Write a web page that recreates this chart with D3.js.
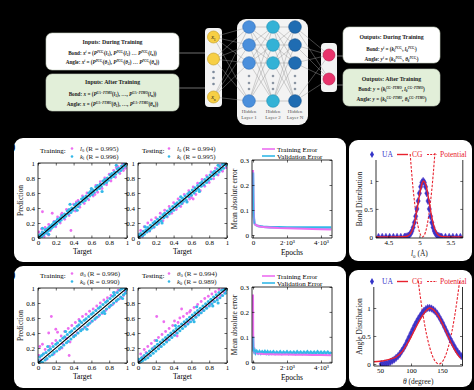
<!DOCTYPE html>
<html><head><meta charset="utf-8">
<script src="https://cdn.jsdelivr.net/npm/d3@7"></script>
<style>body{margin:0;background:#000;} svg{display:block;} text{font-family:"Liberation Serif","Times New Roman",serif;}</style>
</head><body><svg id="c" width="474" height="390"></svg>
<script>
// ---------------- DATA ----------------
const unitTicks = [0,0.2,0.4,0.6,0.8,1];
const unitTickLabels = ["0","0.2","0.4","0.6","0.8","1"];
const maeYTicks = [0,0.1,0.2,0.3];
const maeYTickLabels = ["0","0.1","0.2","0.3"];
const maeXTicks = [0,2000,4000];
const maeXTickLabels = ["0","2·10³","4·10³"];
const bondXTicks = [4.5,5,5.5];
const bondXTickLabels = ["4.5","5","5.5"];
const angleXTicks = [50,100,150];
const angleXTickLabels = ["50","100","150"];
const distYTicks = [0,0.5,1];
const distYTickLabels = ["0","0.5","1"];

const legendB = {train:["0.995","0.996"], test:["0.994","0.995"]};
const legendC = {train:["0.996","0.990"], test:["0.994","0.989"]};

const bTrainPink = [[0.01,0.08],[0.02,0.00],[0.03,0.05],[0.04,0.12],[0.05,0.35],[0.07,0.02],[0.08,0.14],[0.10,0.06],[0.12,0.18],[0.14,0.10],[0.16,0.33],[0.18,0.22],[0.20,0.15],[0.22,0.28],[0.25,0.20],[0.27,0.33],[0.30,0.25],[0.32,0.38],[0.35,0.30],[0.37,0.10],[0.40,0.45],[0.42,0.36],[0.45,0.50],[0.47,0.41],[0.50,0.56],[0.52,0.46],[0.55,0.60],[0.57,0.51],[0.60,0.65],[0.62,0.56],[0.65,0.70],[0.67,0.61],[0.70,0.75],[0.72,0.66],[0.75,0.80],[0.77,0.71],[0.80,0.85],[0.82,0.76],[0.85,0.90],[0.87,0.81],[0.90,0.95],[0.92,0.86],[0.95,0.99],[0.96,0.90],[0.98,0.93],[0.88,0.94],[0.64,0.58],[0.43,0.48],[0.26,0.31],[0.12,0.04]];
const bTrainCyan = [[0.01,0.03],[0.02,0.00],[0.03,0.05],[0.04,0.02],[0.05,0.08],[0.06,0.04],[0.07,0.06],[0.08,0.11],[0.09,0.07],[0.10,0.12],[0.11,0.09],[0.12,0.14],[0.13,0.11],[0.14,0.16],[0.15,0.13],[0.16,0.18],[0.17,0.15],[0.18,0.21],[0.19,0.17],[0.20,0.22],[0.21,0.19],[0.22,0.25],[0.24,0.22],[0.25,0.27],[0.26,0.24],[0.27,0.30],[0.29,0.27],[0.30,0.32],[0.31,0.29],[0.33,0.36],[0.34,0.32],[0.35,0.38],[0.37,0.34],[0.38,0.40],[0.39,0.37],[0.41,0.44],[0.42,0.40],[0.43,0.46],[0.45,0.42],[0.46,0.48],[0.47,0.45],[0.49,0.52],[0.50,0.48],[0.51,0.54],[0.53,0.50],[0.54,0.56],[0.55,0.53],[0.57,0.60],[0.58,0.56],[0.59,0.62],[0.61,0.58],[0.62,0.64],[0.63,0.61],[0.65,0.68],[0.66,0.64],[0.67,0.70],[0.69,0.66],[0.70,0.72],[0.71,0.69],[0.73,0.76],[0.74,0.72],[0.75,0.78],[0.77,0.74],[0.78,0.80],[0.79,0.77],[0.81,0.84],[0.82,0.80],[0.83,0.86],[0.85,0.82],[0.86,0.88],[0.87,0.85],[0.89,0.92],[0.90,0.88],[0.91,0.93],[0.93,0.90],[0.94,0.96],[0.95,0.93],[0.97,0.99],[0.98,0.96],[0.99,1.00],[0.05,0.13],[0.12,0.05],[0.36,0.45],[0.72,0.62],[0.88,0.97],[0.60,0.66],[0.44,0.37]];
const bTestPink = [[0.01,0.05],[0.03,0.10],[0.05,0.02],[0.07,0.15],[0.09,0.08],[0.11,0.20],[0.13,0.09],[0.15,0.24],[0.18,0.14],[0.20,0.27],[0.23,0.19],[0.25,0.33],[0.28,0.23],[0.30,0.37],[0.33,0.28],[0.35,0.42],[0.38,0.33],[0.40,0.47],[0.43,0.38],[0.45,0.52],[0.48,0.42],[0.50,0.46],[0.52,0.58],[0.55,0.49],[0.57,0.63],[0.60,0.54],[0.62,0.68],[0.65,0.58],[0.67,0.73],[0.70,0.63],[0.72,0.78],[0.75,0.69],[0.77,0.83],[0.80,0.74],[0.82,0.88],[0.85,0.79],[0.87,0.93],[0.90,0.84],[0.92,0.97],[0.95,0.89],[0.97,1.00],[0.99,0.94],[0.62,0.52],[0.58,0.52]];
const bTestCyan = [[0.00,0.02],[0.01,0.04],[0.02,0.00],[0.03,0.06],[0.05,0.03],[0.06,0.09],[0.07,0.05],[0.09,0.11],[0.10,0.08],[0.11,0.14],[0.13,0.10],[0.14,0.17],[0.15,0.13],[0.17,0.20],[0.18,0.15],[0.19,0.22],[0.21,0.18],[0.22,0.25],[0.23,0.21],[0.25,0.28],[0.26,0.23],[0.28,0.31],[0.29,0.27],[0.30,0.33],[0.32,0.29],[0.33,0.36],[0.35,0.32],[0.36,0.39],[0.37,0.35],[0.39,0.42],[0.40,0.37],[0.42,0.45],[0.43,0.41],[0.44,0.47],[0.46,0.43],[0.47,0.50],[0.49,0.46],[0.50,0.53],[0.51,0.49],[0.53,0.56],[0.54,0.51],[0.56,0.59],[0.57,0.55],[0.58,0.61],[0.60,0.57],[0.61,0.64],[0.63,0.60],[0.64,0.67],[0.65,0.63],[0.67,0.70],[0.68,0.65],[0.70,0.73],[0.71,0.69],[0.72,0.75],[0.74,0.71],[0.75,0.78],[0.77,0.74],[0.78,0.81],[0.79,0.77],[0.81,0.84],[0.82,0.79],[0.84,0.87],[0.85,0.83],[0.86,0.89],[0.88,0.85],[0.89,0.92],[0.91,0.88],[0.92,0.95],[0.93,0.91],[0.95,0.98],[0.96,0.93],[0.97,0.99],[0.99,0.97],[1.00,0.98],[0.08,0.15],[0.27,0.20],[0.48,0.55],[0.69,0.62],[0.90,0.97],[0.55,0.48]];
const cTrainPink = [[0.01,0.10],[0.02,0.22],[0.03,0.04],[0.05,0.25],[0.06,0.12],[0.08,0.18],[0.10,0.05],[0.12,0.40],[0.13,0.22],[0.15,0.62],[0.16,0.26],[0.18,0.12],[0.20,0.30],[0.22,0.41],[0.24,0.18],[0.26,0.36],[0.28,0.25],[0.30,0.42],[0.32,0.33],[0.34,0.46],[0.36,0.28],[0.38,0.50],[0.40,0.36],[0.42,0.54],[0.44,0.40],[0.46,0.58],[0.48,0.44],[0.50,0.62],[0.52,0.47],[0.54,0.65],[0.56,0.50],[0.58,0.69],[0.60,0.55],[0.62,0.72],[0.64,0.58],[0.66,0.76],[0.68,0.62],[0.70,0.80],[0.72,0.66],[0.74,0.84],[0.76,0.70],[0.78,0.87],[0.80,0.74],[0.82,0.90],[0.84,0.78],[0.86,0.94],[0.88,0.82],[0.90,0.97],[0.92,0.86],[0.94,0.99],[0.96,0.90],[0.98,0.95],[0.99,1.00],[0.35,0.10],[0.20,0.45],[0.27,0.20]];
const cTrainCyan = [[0.00,0.04],[0.01,0.00],[0.02,0.08],[0.03,0.02],[0.04,0.10],[0.05,0.01],[0.06,0.12],[0.08,0.04],[0.09,0.14],[0.10,0.06],[0.12,0.17],[0.13,0.09],[0.14,0.19],[0.16,0.11],[0.17,0.22],[0.18,0.14],[0.20,0.25],[0.21,0.16],[0.22,0.27],[0.24,0.19],[0.25,0.30],[0.26,0.21],[0.28,0.33],[0.29,0.24],[0.30,0.35],[0.32,0.27],[0.33,0.38],[0.34,0.29],[0.36,0.41],[0.37,0.32],[0.38,0.43],[0.40,0.35],[0.41,0.46],[0.42,0.37],[0.44,0.49],[0.45,0.40],[0.46,0.51],[0.48,0.43],[0.49,0.54],[0.50,0.45],[0.52,0.57],[0.53,0.48],[0.54,0.59],[0.56,0.51],[0.57,0.62],[0.58,0.53],[0.60,0.65],[0.61,0.56],[0.62,0.67],[0.64,0.59],[0.65,0.70],[0.66,0.61],[0.68,0.73],[0.69,0.64],[0.70,0.75],[0.72,0.67],[0.73,0.78],[0.74,0.69],[0.76,0.81],[0.77,0.72],[0.78,0.83],[0.80,0.75],[0.81,0.86],[0.82,0.77],[0.84,0.89],[0.85,0.80],[0.86,0.91],[0.88,0.83],[0.89,0.94],[0.90,0.85],[0.92,0.97],[0.93,0.88],[0.94,0.99],[0.96,0.91],[0.97,1.00],[0.98,0.93],[0.99,0.97],[0.11,0.22],[0.31,0.42],[0.55,0.45],[0.75,0.66],[0.95,0.86],[0.47,0.56],[0.85,0.94]];
const cTestPink = [[0.01,0.04],[0.03,0.12],[0.05,0.08],[0.07,0.18],[0.09,0.14],[0.11,0.22],[0.13,0.10],[0.15,0.26],[0.17,0.20],[0.19,0.30],[0.21,0.62],[0.23,0.34],[0.25,0.22],[0.27,0.38],[0.29,0.55],[0.31,0.42],[0.33,0.30],[0.35,0.46],[0.37,0.36],[0.39,0.50],[0.41,0.56],[0.43,0.40],[0.45,0.54],[0.47,0.60],[0.49,0.72],[0.51,0.62],[0.53,0.50],[0.55,0.66],[0.57,0.54],[0.59,0.70],[0.61,0.58],[0.63,0.74],[0.65,0.62],[0.67,0.78],[0.69,0.66],[0.71,0.82],[0.73,0.70],[0.75,0.86],[0.77,0.74],[0.79,0.89],[0.81,0.78],[0.83,0.92],[0.85,0.82],[0.87,0.95],[0.89,0.86],[0.91,0.98],[0.93,0.90],[0.95,1.00],[0.97,0.94],[0.99,0.99],[0.44,0.36],[0.58,0.68]];
const cTestCyan = [[0.00,0.01],[0.01,0.05],[0.03,0.00],[0.04,0.07],[0.05,0.03],[0.07,0.10],[0.08,0.05],[0.10,0.13],[0.11,0.07],[0.13,0.16],[0.14,0.10],[0.16,0.19],[0.17,0.13],[0.19,0.22],[0.20,0.16],[0.22,0.25],[0.23,0.19],[0.25,0.28],[0.26,0.22],[0.28,0.31],[0.29,0.25],[0.31,0.34],[0.32,0.28],[0.34,0.37],[0.35,0.31],[0.37,0.40],[0.38,0.34],[0.40,0.43],[0.41,0.37],[0.43,0.46],[0.44,0.40],[0.46,0.49],[0.47,0.43],[0.49,0.52],[0.50,0.46],[0.52,0.55],[0.53,0.49],[0.55,0.58],[0.56,0.52],[0.58,0.61],[0.59,0.55],[0.61,0.64],[0.62,0.58],[0.64,0.67],[0.65,0.61],[0.67,0.70],[0.68,0.64],[0.70,0.73],[0.71,0.67],[0.73,0.76],[0.74,0.70],[0.76,0.79],[0.77,0.73],[0.79,0.82],[0.80,0.76],[0.82,0.85],[0.83,0.79],[0.85,0.88],[0.86,0.82],[0.88,0.91],[0.89,0.84],[0.91,0.94],[0.92,0.87],[0.94,0.97],[0.95,0.90],[0.97,0.99],[0.98,0.93],[0.99,0.97],[0.21,0.30],[0.42,0.50],[0.63,0.55],[0.84,0.76],[0.66,0.75],[0.90,0.80]];

const bTrainErr = [[0,0.26],[10,0.21],[20,0.15],[30,0.11],[45,0.08],[60,0.062],[80,0.052],[100,0.046],[150,0.041],[200,0.039],[300,0.036],[400,0.034],[600,0.032],[800,0.031],[1000,0.030],[1500,0.028],[2000,0.027],[2500,0.026],[3000,0.025],[3500,0.024],[4000,0.023],[4600,0.022]];
const bValErr = [[0,0.25],[10,0.20],[20,0.14],[30,0.10],[45,0.075],[60,0.06],[80,0.05],[100,0.045],[150,0.041],[200,0.039],[300,0.036],[400,0.035],[600,0.033],[800,0.032],[1000,0.031],[1500,0.031],[2000,0.030],[2500,0.030],[3000,0.030],[3500,0.030],[4000,0.030],[4600,0.030]];
const cTrainErr = [[0,0.27],[5,0.2],[10,0.12],[20,0.07],[30,0.05],[50,0.042],[80,0.038],[150,0.035],[300,0.033],[600,0.031],[1000,0.030],[1500,0.029],[2000,0.029],[2500,0.028],[3000,0.028],[3500,0.027],[4000,0.027],[4600,0.026]];
const cValErr = [[0,0.1],[15,0.06],[30,0.045],[60,0.040],[100,0.046],[150,0.035],[220,0.043],[300,0.034],[380,0.042],[460,0.033],[540,0.041],[620,0.034],[700,0.042],[780,0.033],[860,0.041],[940,0.032],[1020,0.040],[1100,0.033],[1200,0.041],[1300,0.032],[1400,0.040],[1500,0.033],[1600,0.041],[1700,0.032],[1800,0.040],[1900,0.033],[2000,0.041],[2100,0.032],[2200,0.040],[2300,0.033],[2400,0.040],[2500,0.032],[2600,0.041],[2700,0.033],[2800,0.040],[2900,0.032],[3000,0.040],[3100,0.033],[3200,0.041],[3300,0.032],[3400,0.040],[3500,0.033],[3600,0.040],[3700,0.032],[3800,0.041],[3900,0.033],[4000,0.040],[4100,0.032],[4200,0.040],[4300,0.033],[4400,0.040],[4500,0.032],[4600,0.039]];

const bondUA = [[4.34,0],[4.40,0],[4.46,0],[4.52,0],[4.58,0],[4.64,0],[4.70,0],[4.76,0.002],[4.78,0.004],[4.80,0.009],[4.82,0.019],[4.84,0.035],[4.86,0.063],[4.88,0.106],[4.90,0.170],[4.92,0.258],[4.94,0.369],[4.96,0.50],[4.98,0.642],[5.00,0.780],[5.02,0.895],[5.04,0.973],[5.06,1],[5.08,0.973],[5.10,0.895],[5.12,0.780],[5.14,0.642],[5.16,0.50],[5.18,0.369],[5.20,0.258],[5.22,0.170],[5.24,0.106],[5.26,0.063],[5.28,0.035],[5.30,0.019],[5.32,0.009],[5.34,0.004],[5.36,0.002],[5.42,0],[5.48,0],[5.54,0],[5.60,0],[5.66,0]];
const bondCG = [[4.3,0],[4.6,0],[4.75,0.003],[4.8,0.011],[4.85,0.05],[4.9,0.168],[4.95,0.411],[5.0,0.739],[5.05,0.976],[5.07,1],[5.1,0.946],[5.15,0.674],[5.2,0.352],[5.25,0.135],[5.3,0.038],[5.35,0.008],[5.45,0.001],[5.7,0]];
const bondPot = [[4.80,2.34],[4.825,1.90],[4.85,1.5],[4.875,1.15],[4.90,0.84],[4.925,0.59],[4.95,0.375],[4.975,0.21],[5.00,0.094],[5.025,0.023],[5.05,0],[5.075,0.023],[5.10,0.094],[5.125,0.21],[5.15,0.375],[5.175,0.59],[5.20,0.84],[5.225,1.15],[5.25,1.5],[5.275,1.90],[5.30,2.34]];
const angleUA = [[52,0],[55,0],[58,0.01],[61,0.01],[64,0.02],[67,0.04],[70,0.06],[73,0.08],[76,0.11],[79,0.14],[82,0.18],[85,0.23],[88,0.28],[91,0.34],[94,0.41],[97,0.48],[100,0.55],[103,0.62],[106,0.69],[109,0.75],[112,0.81],[115,0.86],[118,0.91],[121,0.95],[124,0.98],[127,1.00],[130,1.00],[133,0.99],[136,0.97],[139,0.94],[142,0.90],[145,0.85],[148,0.79],[151,0.73],[154,0.66],[157,0.59],[160,0.52],[163,0.45],[166,0.39],[169,0.33],[172,0.27],[175,0.22],[178,0.18],[181,0.14]];
const angleCG = [[40,0.04],[50,0.05],[60,0.07],[70,0.10],[75,0.12],[80,0.16],[85,0.21],[90,0.29],[95,0.38],[100,0.48],[105,0.59],[110,0.70],[115,0.80],[120,0.89],[125,0.96],[130,1.0],[135,0.98],[140,0.92],[145,0.84],[150,0.73],[155,0.61],[160,0.49],[165,0.37],[170,0.26],[175,0.17],[180,0.10]];
const anglePot = [[105,2.13],[110,1.63],[115,1.20],[120,0.83],[125,0.53],[130,0.30],[135,0.133],[140,0.033],[145,0],[150,0.033],[155,0.133],[160,0.30],[165,0.53],[170,0.83],[175,1.20],[180,1.63],[183,1.92]];

// ---------------- DRAWING ----------------
const svg = d3.select("#c");
svg.append("rect").attr("width",474).attr("height",390).attr("fill","#000");
const PINK="#ec6ef0", CYAN="#33b8e8", BLUE="#3434c8", RED="#e8222e", INK="#1a1a1a";

function rich(parent, x, y, markup, size, opts={}) {
  const t = parent.append("text").attr("x",x).attr("y",y).attr("font-size",size)
    .attr("text-anchor",opts.anchor||"middle").attr("fill",opts.fill||INK);
  if (opts.bold) t.attr("font-weight","bold");
  if (opts.rotate) t.attr("transform",`rotate(-90,${x},${y})`);
  const toks = markup.split(/(\$[^$]+\$|\^\{[^}]*\}|_\{[^}]*\}|;\{[^}]*\})/).filter(s=>s.length);
  let shift = 0;
  toks.forEach(tok => {
    let txt=tok, target=0, fs=null, it=false;
    if (tok[0]==="$") { txt=tok.slice(1,-1); it=true; }
    else if (tok.startsWith("^{")) { txt=tok.slice(2,-1); target=-size*0.42; fs=size*0.62; it=true; }
    else if (tok.startsWith("_{")) { txt=tok.slice(2,-1); target=size*0.28; fs=size*0.65; }
    else if (tok.startsWith(";{")) { txt=tok.slice(2,-1); target=-size*0.22; fs=size*0.48; it=true; }
    const ts = t.append("tspan").text(txt);
    if (target!==shift) { ts.attr("dy", target-shift); shift=target; }
    if (fs) ts.attr("font-size", fs);
    if (it) ts.attr("font-style","italic");
  });
  return t;
}

// ---- panel backgrounds ----
[[14,138,332,124,9],[349,140,123,121,9],[14,266,332,122,9],[349,270,123,117,9]].forEach(p=>{
  svg.append("rect").attr("x",p[0]).attr("y",p[1]).attr("width",p[2]).attr("height",p[3]).attr("rx",p[4]).attr("fill","#fff");
});
svg.append("text").attr("x",12).attr("y",150).attr("font-size",10).attr("font-weight","bold").attr("fill","#000").text(")");
svg.append("text").attr("x",12).attr("y",278).attr("font-size",10).attr("font-weight","bold").attr("fill","#000").text(")");

// ---- diagram ----
const dg = svg.append("g");
function box(x,y,w,h,fill){ dg.append("rect").attr("x",x).attr("y",y).attr("width",w).attr("height",h).attr("rx",6).attr("fill",fill).attr("stroke","#c8d2c0").attr("stroke-width",0.6); }
box(46,33,133,37,"#ffffff"); box(46,74,133,37,"#e2efd9");
box(343,27,97,36,"#ffffff"); box(343,69,97,37,"#e2efd9");
[[179,53,205,53],[179,88,205,88],[337,56,343,56],[337,85,343,85]].forEach(l=>{
  dg.append("line").attr("x1",l[0]).attr("y1",l[1]).attr("x2",l[2]).attr("y2",l[3]).attr("stroke","#8a8a8a").attr("stroke-width",0.8);
});
dg.append("rect").attr("x",205).attr("y",28).attr("width",17).attr("height",79).attr("rx",4).attr("fill","#f3f3f3");
dg.append("rect").attr("x",237).attr("y",19).attr("width",71).attr("height",106).attr("rx",9).attr("fill","#f3f3f3");
dg.append("rect").attr("x",321).attr("y",43).attr("width",16).attr("height",49).attr("rx",4).attr("fill","#f3f3f3");

const inX=213.5, inY=[37,59,97];
const layX=[249,273,295], layY=[27,45,63,101];
const outX=329, outY=[55,79];
const conn = dg.append("g").attr("stroke","#9a9a9a").attr("stroke-width",0.45);
function connect(xa,ya,xb,yb){ ya.forEach(a=>yb.forEach(b=>conn.append("line").attr("x1",xa).attr("y1",a).attr("x2",xb).attr("y2",b))); }
connect(inX,inY,layX[0],layY); connect(layX[0],layY,layX[1],layY); connect(layX[1],layY,layX[2],layY); connect(layX[2],layY,outX,outY);

inY.forEach(y=>dg.append("circle").attr("cx",inX).attr("cy",y).attr("r",6).attr("fill","#f7cf45").attr("stroke","#c9a227").attr("stroke-width",0.7));
[72,78,84].forEach(y=>dg.append("circle").attr("cx",inX).attr("cy",y).attr("r",1.3).attr("fill","#7d8a9c"));
rich(dg,inX,39,"$x$_{1}",6,{});
rich(dg,inX,99,"$x$_{n}",6,{});
const layFill=["#4a8fdc","#33b2d6","#1f6cb2"], layStroke=["#2f6fb8","#2090b4","#144f88"];
layX.forEach((x,i)=>{
  layY.forEach(y=>dg.append("circle").attr("cx",x).attr("cy",y).attr("r",6.3).attr("fill",layFill[i]).attr("stroke",layStroke[i]).attr("stroke-width",0.6));
  [76,83,89].forEach(y=>dg.append("circle").attr("cx",x).attr("cy",y).attr("r",1.3).attr("fill","#8c96a3"));
  dg.append("text").attr("x",x).attr("y",113).attr("font-size",5).attr("text-anchor","middle").attr("fill","#555").text("Hidden");
  dg.append("text").attr("x",x).attr("y",119).attr("font-size",5).attr("text-anchor","middle").attr("fill","#555").text("Layer "+["1","2","N"][i]);
});
outY.forEach(y=>dg.append("circle").attr("cx",outX).attr("cy",y).attr("r",6).attr("fill","#e8336b").attr("stroke","#b01c4a").attr("stroke-width",0.6));

rich(dg,112.5,43.5,"Inputs: During Training",5.8,{bold:true});
rich(dg,112.5,55,"Bond: $x$^{i}  =  ($P$^{PCG};{i}($l$_{1}), $P$^{PCG};{i}($l$_{2}) … $P$^{PCG};{i}($l$_{n}))",5.2,{bold:true});
rich(dg,112.5,64,"Angle: $x$^{i}  =  ($P$^{PCG};{i}($θ$_{1}), $P$^{PCG};{i}($θ$_{2}) … $P$^{PCG};{i}($θ$_{n}))",5.2,{bold:true});
rich(dg,112.5,84,"Inputs: After Training",5.8,{bold:true});
rich(dg,112.5,96,"Bond: $x$  =  ($P$^{UA−PTMO}($l$_{1}), …, $P$^{UA−PTMO}($l$_{n}))",5.2,{bold:true});
rich(dg,112.5,106,"Angle: $x$  =  ($P$^{UA−PTMO}($θ$_{1}), …, $P$^{UA−PTMO}($θ$_{n}))",5.2,{bold:true});
rich(dg,391.5,39,"Outputs: During Training",5.8,{bold:true});
rich(dg,391.5,51,"Bond: $y$^{i}  =  ($k$_{l}^{PCG};{i}, $l$_{0}^{PCG};{i})",5.2,{bold:true});
rich(dg,391.5,61,"Angle: $y$^{i}  =  ($k$_{θ}^{PCG};{i}, $θ$_{0}^{PCG};{i})",5.2,{bold:true});
rich(dg,391.5,80.5,"Outputs: After Training",5.8,{bold:true});
rich(dg,391.5,91,"Bond: $y$  =  ($k$_{l}^{CG−PTMO}, $l$_{0}^{CG−PTMO})",5.2,{bold:true});
rich(dg,391.5,101,"Angle: $y$  =  ($k$_{θ}^{CG−PTMO}, $θ$_{0}^{CG−PTMO})",5.2,{bold:true});

// ---- axes helpers ----
let clipId=0;
function clip(g,x0,y0,w,h){ const id="cl"+(clipId++); g.append("clipPath").attr("id",id).append("rect").attr("x",x0).attr("y",y0).attr("width",w).attr("height",h); return "url(#"+id+")"; }
function styleAxis(s){ s.select(".domain").remove(); s.attr("font-size",7).attr("font-family","Liberation Serif, serif"); s.selectAll("line").attr("stroke","#000").attr("stroke-width",0.6); s.selectAll("text").attr("fill","#000"); }
function axes(g,x,y,xt,xl,yt,yl,opt){
  const [x0,x1]=x.range(), [yb,yt0]=y.range();
  const fx=d=>xl[xt.indexOf(d)], fy=d=>yl[yt.indexOf(d)];
  g.append("g").attr("transform",`translate(0,${yb})`).call(d3.axisBottom(x).tickValues(xt).tickFormat(fx).tickSizeInner(-2.5).tickSizeOuter(0).tickPadding(2.5)).call(styleAxis);
  g.append("g").attr("transform",`translate(${x0},0)`).call(d3.axisLeft(y).tickValues(yt).tickFormat(fy).tickSizeInner(-2.5).tickSizeOuter(0).tickPadding(3)).call(styleAxis);
  g.append("g").attr("transform",`translate(${x1},0)`).call(d3.axisRight(y).tickValues(yt).tickFormat("").tickSizeInner(-2.5).tickSizeOuter(0)).call(styleAxis);
  const top = opt.frameTop!==undefined?opt.frameTop:yt0;
  if (opt.frameTop===undefined) {
    g.append("g").attr("transform",`translate(0,${yt0})`).call(d3.axisTop(x).tickValues(xt).tickFormat("").tickSizeInner(-2.5).tickSizeOuter(0)).call(styleAxis);
    g.append("line").attr("x1",x0).attr("x2",x1).attr("y1",yt0).attr("y2",yt0).attr("stroke","#000").attr("stroke-width",0.8);
  }
  g.append("line").attr("x1",x0).attr("x2",x1).attr("y1",yb).attr("y2",yb).attr("stroke","#000").attr("stroke-width",0.8);
  g.append("line").attr("x1",x0).attr("x2",x0).attr("y1",top).attr("y2",yb).attr("stroke","#000").attr("stroke-width",0.8);
  g.append("line").attr("x1",x1).attr("x2",x1).attr("y1",top).attr("y2",yb).attr("stroke","#000").attr("stroke-width",0.8);
}

function scatterPlot(x0,x1,yTop,yBot,pink,cyan,title,leg,varName,kName,showYLabel){
  const g=svg.append("g");
  const x=d3.scaleLinear().domain([0,1]).range([x0,x1]);
  const y=d3.scaleLinear().domain([0,1]).range([yBot,yTop]);
  const cp=clip(g,x0,yTop,x1-x0,yBot-yTop);
  const pg=g.append("g").attr("clip-path",cp);
  pg.selectAll(".p").data(pink).join("circle").attr("cx",d=>x(d[0])).attr("cy",d=>y(d[1])).attr("r",1.4).attr("fill",PINK);
  pg.selectAll(".c").data(cyan).join("circle").attr("cx",d=>x(d[0])).attr("cy",d=>y(d[1])).attr("r",1.6).attr("fill",CYAN);
  pg.append("line").attr("x1",x(0)).attr("y1",y(0)).attr("x2",x(1)).attr("y2",y(1)).attr("stroke","#000").attr("stroke-width",1.1);
  axes(g,x,y,unitTicks,unitTickLabels,unitTicks,unitTickLabels,{});
  g.append("text").attr("x",(x0+x1)/2).attr("y",yBot+16).attr("font-size",7.5).attr("text-anchor","middle").text("Target");
  if(showYLabel) rich(g,23,(yTop+yBot)/2,"Prediction",7.5,{rotate:true});
  const lx = x0 + (title==="Training:"?2:4);
  g.append("text").attr("x",lx).attr("y",yTop-10).attr("font-size",7).text(title);
  const mx = lx + (title==="Training:"?32:27);
  g.append("circle").attr("cx",mx).attr("cy",yTop-14.5).attr("r",1.3).attr("fill",PINK);
  g.append("circle").attr("cx",mx).attr("cy",yTop-6.5).attr("r",1.3).attr("fill",CYAN);
  rich(g,mx+8,yTop-12.5,varName+" (R = "+leg[0]+")",7,{anchor:"start"});
  rich(g,mx+8,yTop-4.5,kName+" (R = "+leg[1]+")",7,{anchor:"start"});
}

function maePlot(yTop,yBot,ymin,train,val){
  const g=svg.append("g");
  const x=d3.scaleLinear().domain([-60,4650]).range([252,332]);
  const y=d3.scaleLinear().domain([ymin,0.3]).range([yBot,yTop]);
  const cp=clip(g,252,yTop,80,yBot-yTop);
  const pg=g.append("g").attr("clip-path",cp);
  const line=d3.line().x(d=>x(d[0])).y(d=>y(d[1]));
  pg.append("path").attr("d",line(val)).attr("fill","none").attr("stroke",CYAN).attr("stroke-width",2.4);
  pg.append("path").attr("d",line(train)).attr("fill","none").attr("stroke",PINK).attr("stroke-width",2);
  pg.append("path").attr("d",line(val.slice(0,8))).attr("fill","none").attr("stroke",CYAN).attr("stroke-width",1.2);
  axes(g,x,y,maeXTicks,maeXTickLabels,maeYTicks,maeYTickLabels,{});
  g.append("text").attr("x",292).attr("y",yBot+17).attr("font-size",7.5).attr("text-anchor","middle").text("Epochs");
  rich(g,237,(yTop+yBot)/2,"Mean absolute error",7.5,{rotate:true});
  g.append("line").attr("x1",262).attr("x2",275).attr("y1",yTop-11).attr("y2",yTop-11).attr("stroke",PINK).attr("stroke-width",1.6);
  g.append("line").attr("x1",262).attr("x2",275).attr("y1",yTop-4).attr("y2",yTop-4).attr("stroke",CYAN).attr("stroke-width",1.6);
  g.append("text").attr("x",277).attr("y",yTop-8.5).attr("font-size",7).text("Training Error");
  g.append("text").attr("x",277).attr("y",yTop-1.5).attr("font-size",7).text("Validation Error");
}

function distPlot(cfg){
  const g=svg.append("g");
  const x=d3.scaleLinear().domain(cfg.xd).range([cfg.x0,cfg.x1]);
  const y=d3.scaleLinear().domain(cfg.yd).range([cfg.yb,cfg.yt]);
  const cp=clip(g,cfg.x0,cfg.yt,cfg.x1-cfg.x0,cfg.yb-cfg.yt);
  const pg=g.append("g").attr("clip-path",cp);
  const curve=d3.line().x(d=>x(d[0])).y(d=>y(d[1])).curve(d3.curveCatmullRom);
  pg.append("path").attr("d",curve(cfg.pot)).attr("fill","none").attr("stroke",RED).attr("stroke-width",1.1).attr("stroke-dasharray","2.5,1.5");
  const sym=d3.symbol().type(d3.symbolDiamond).size(16);
  pg.selectAll(".u").data(cfg.ua).join("path").attr("d",sym).attr("transform",d=>`translate(${x(d[0])},${y(d[1])})`).attr("fill",BLUE).attr("stroke","#5a3cc8").attr("stroke-width",0.5);
  pg.append("path").attr("d",curve(cfg.cg)).attr("fill","none").attr("stroke",RED).attr("stroke-width",1.4);
  axes(g,x,y,cfg.xt,cfg.xl,distYTicks,distYTickLabels,{frameTop:cfg.frameTop});
  rich(g,(cfg.x0+cfg.x1)/2,cfg.yb+17.5,cfg.xlabel,7.5,{});
  rich(g,362,(cfg.frameTop+cfg.yb)/2,cfg.ylabel,7.5,{rotate:true});
  const ly=cfg.legY;
  g.append("path").attr("d",d3.symbol().type(d3.symbolDiamond).size(14)).attr("transform",`translate(372,${ly-2.5})`).attr("fill",BLUE);
  g.append("text").attr("x",382).attr("y",ly).attr("font-size",7.5).attr("fill",BLUE).text("UA");
  g.append("line").attr("x1",397).attr("x2",408).attr("y1",ly-2.5).attr("y2",ly-2.5).attr("stroke",RED).attr("stroke-width",1.4);
  g.append("text").attr("x",412).attr("y",ly).attr("font-size",7.5).attr("fill",RED).text("CG");
  g.append("line").attr("x1",427).attr("x2",437).attr("y1",ly-2.5).attr("y2",ly-2.5).attr("stroke",RED).attr("stroke-width",1.1).attr("stroke-dasharray","2,1.2");
  g.append("text").attr("x",440).attr("y",ly).attr("font-size",7.5).attr("fill",RED).text("Potential");
}

// ---- panel b ----
scatterPlot(38,127,163,238,bTrainPink,bTrainCyan,"Training:",legendB.train,"$l$_{0}","$k$_{l}",true);
scatterPlot(138,227,163,238,bTestPink,bTestCyan,"Testing:",legendB.test,"$l$_{0}","$k$_{l}",false);
maePlot(160,238,-0.012,bTrainErr,bValErr);
distPlot({x0:376,x1:462.8,xd:[4.3,5.7],yt:153,yb:238,yd:[-0.02,1.5],frameTop:160,ua:bondUA,cg:bondCG,pot:bondPot,xt:bondXTicks,xl:bondXTickLabels,xlabel:"$l$_{0} (Å)",ylabel:"Bond Distribution",legY:157});

// ---- panel c ----
scatterPlot(38,127,288,363,cTrainPink,cTrainCyan,"Training:",legendC.train,"$θ$_{0}","$k$_{θ}",true);
scatterPlot(138,227,288,363,cTestPink,cTestCyan,"Testing:",legendC.test,"$θ$_{0}","$k$_{θ}",false);
maePlot(287,363,-0.005,cTrainErr,cValErr);
distPlot({x0:373.8,x1:462.5,xd:[40,183],yt:280,yb:366,yd:[-0.036,1.5],frameTop:287,ua:angleUA,cg:angleCG,pot:anglePot,xt:angleXTicks,xl:angleXTickLabels,xlabel:"$θ$ (degree)",ylabel:"Angle Distribution",legY:284});
</script></body></html>
